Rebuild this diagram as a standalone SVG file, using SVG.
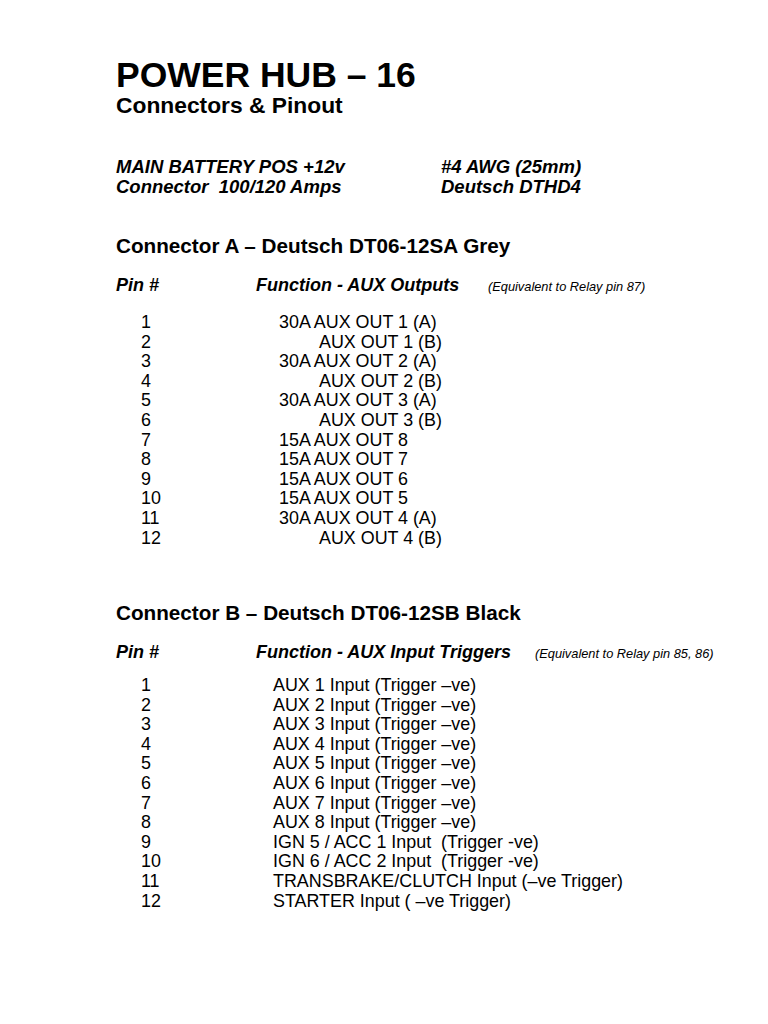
<svg xmlns="http://www.w3.org/2000/svg" width="768" height="1024" viewBox="0 0 768 1024">
<style>
text{font-family:"Liberation Sans",Arial,sans-serif;fill:#000;white-space:pre}
.t{font-size:35.5px;font-weight:bold}
.s{font-size:22.8px;font-weight:bold}
.bi{font-size:18px;font-weight:bold;font-style:italic}
.bi2{font-size:18.5px;font-weight:bold;font-style:italic}
.h{font-size:20.7px;font-weight:bold}
.e{font-size:12.8px;font-style:italic}
.r{font-size:17.9px}
</style>
<rect width="768" height="1024" fill="#fff"/>
<text class="t" x="116" y="87">POWER HUB – 16</text>
<text class="s" x="116" y="113">Connectors &amp; Pinout</text>
<text class="bi2" x="116" y="173">MAIN BATTERY POS +12v</text>
<text class="bi2" x="441" y="173">#4 AWG (25mm)</text>
<text class="bi2" x="116" y="193">Connector  100/120 Amps</text>
<text class="bi2" x="441" y="193">Deutsch DTHD4</text>
<g id="connA">
<text class="h" x="116" y="253">Connector A – Deutsch DT06-12SA Grey</text>
<text class="bi" x="116" y="291">Pin #</text>
<text class="bi" x="256" y="291">Function - AUX Outputs</text>
<text class="e" x="488" y="291">(Equivalent to Relay pin 87)</text>
<text class="r" x="141" y="328">1</text><text class="r" x="279" y="328">30A AUX OUT 1 (A)</text>
<text class="r" x="141" y="347.6">2</text><text class="r" x="319" y="347.6">AUX OUT 1 (B)</text>
<text class="r" x="141" y="367.2">3</text><text class="r" x="279" y="367.2">30A AUX OUT 2 (A)</text>
<text class="r" x="141" y="386.8">4</text><text class="r" x="319" y="386.8">AUX OUT 2 (B)</text>
<text class="r" x="141" y="406.4">5</text><text class="r" x="279" y="406.4">30A AUX OUT 3 (A)</text>
<text class="r" x="141" y="426">6</text><text class="r" x="319" y="426">AUX OUT 3 (B)</text>
<text class="r" x="141" y="445.6">7</text><text class="r" x="279" y="445.6">15A AUX OUT 8</text>
<text class="r" x="141" y="465.2">8</text><text class="r" x="279" y="465.2">15A AUX OUT 7</text>
<text class="r" x="141" y="484.8">9</text><text class="r" x="279" y="484.8">15A AUX OUT 6</text>
<text class="r" x="141" y="504.4">10</text><text class="r" x="279" y="504.4">15A AUX OUT 5</text>
<text class="r" x="141" y="524">11</text><text class="r" x="279" y="524">30A AUX OUT 4 (A)</text>
<text class="r" x="141" y="543.6">12</text><text class="r" x="319" y="543.6">AUX OUT 4 (B)</text>
</g>
<g id="connB">
<text class="h" x="116" y="620">Connector B – Deutsch DT06-12SB Black</text>
<text class="bi" x="256" y="658">Function - AUX Input Triggers</text>
<text class="bi" x="116" y="658">Pin #</text>
<text class="e" x="535" y="658">(Equivalent to Relay pin 85, 86)</text>
<text class="r" x="141" y="691">1</text><text class="r" x="273" y="691">AUX 1 Input (Trigger –ve)</text>
<text class="r" x="141" y="710.6">2</text><text class="r" x="273" y="710.6">AUX 2 Input (Trigger –ve)</text>
<text class="r" x="141" y="730.2">3</text><text class="r" x="273" y="730.2">AUX 3 Input (Trigger –ve)</text>
<text class="r" x="141" y="749.8">4</text><text class="r" x="273" y="749.8">AUX 4 Input (Trigger –ve)</text>
<text class="r" x="141" y="769.4">5</text><text class="r" x="273" y="769.4">AUX 5 Input (Trigger –ve)</text>
<text class="r" x="141" y="789">6</text><text class="r" x="273" y="789">AUX 6 Input (Trigger –ve)</text>
<text class="r" x="141" y="808.6">7</text><text class="r" x="273" y="808.6">AUX 7 Input (Trigger –ve)</text>
<text class="r" x="141" y="828.2">8</text><text class="r" x="273" y="828.2">AUX 8 Input (Trigger –ve)</text>
<text class="r" x="141" y="847.8">9</text><text class="r" x="273" y="847.8">IGN 5 / ACC 1 Input  (Trigger -ve)</text>
<text class="r" x="141" y="867.4">10</text><text class="r" x="273" y="867.4">IGN 6 / ACC 2 Input  (Trigger -ve)</text>
<text class="r" x="141" y="887">11</text><text class="r" x="273" y="887">TRANSBRAKE/CLUTCH Input (–ve Trigger)</text>
<text class="r" x="141" y="906.6">12</text><text class="r" x="273" y="906.6">STARTER Input ( –ve Trigger)</text>
</g>
</svg>
